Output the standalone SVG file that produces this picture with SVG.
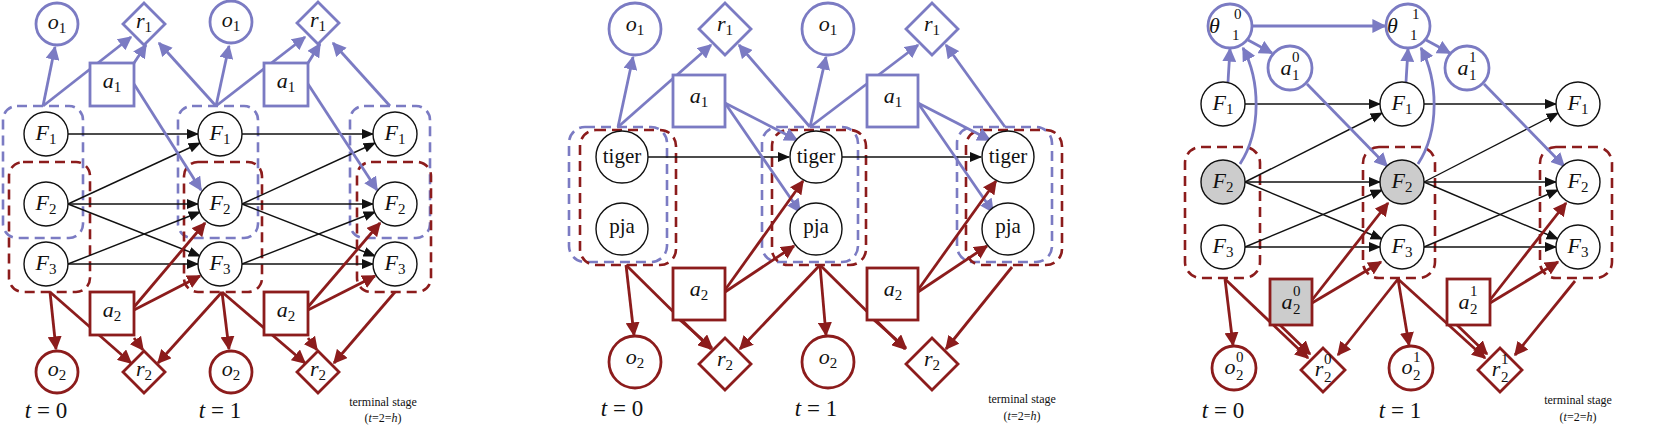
<svg xmlns="http://www.w3.org/2000/svg" width="1667" height="433" viewBox="0 0 1667 433" font-family="'Liberation Serif','DejaVu Serif',serif">
<style>
.b{stroke:#7b7bc3;stroke-width:2.8;fill:none}
.r{stroke:#8c1c1c;stroke-width:2.8;fill:none}
.k{stroke:#111;stroke-width:1.4;fill:none}
.bn{stroke:#7b7bc3;stroke-width:2.8;fill:#fff}
.rn{stroke:#8c1c1c;stroke-width:2.8;fill:#fff}
.kn{stroke:#111;stroke-width:1.4;fill:#fff}
.g{fill:#cccccc}
.bd{stroke:#7b7bc3;stroke-width:2.6;fill:none;stroke-dasharray:10 6}
.rd{stroke:#8c1c1c;stroke-width:2.6;fill:none;stroke-dasharray:10 6}
text{font-family:"Liberation Serif","DejaVu Serif",serif;fill:#111}
.m{font-style:italic;font-size:22px;text-anchor:middle}
.s{font-style:normal;font-size:15px}
.w{font-size:21px;text-anchor:middle}
.t{font-size:12px;text-anchor:middle}
</style>
<defs>
<marker id="ab" viewBox="0 0 10 10" refX="9" refY="5" markerWidth="5" markerHeight="5" orient="auto"><path d="M0,0L10,5L0,10z" fill="#7b7bc3"/></marker>
<marker id="ar" viewBox="0 0 10 10" refX="9" refY="5" markerWidth="5" markerHeight="5" orient="auto"><path d="M0,0L10,5L0,10z" fill="#8c1c1c"/></marker>
<marker id="ak" viewBox="0 0 10 10" refX="9" refY="5" markerWidth="9" markerHeight="9" orient="auto"><path d="M0,1L10,5L0,9z" fill="#111"/></marker>
</defs>

<!-- ================= PANEL 1 ================= -->
<g id="p1-boxes">
<rect class="bd" x="3" y="106" width="80" height="132" rx="14"/>
<rect class="bd" x="178" y="106" width="80" height="132" rx="14"/>
<rect class="bd" x="350" y="106" width="80" height="132" rx="14"/>
<rect class="rd" x="9" y="162" width="81" height="130" rx="14"/>
<rect class="rd" x="184" y="162" width="78" height="130" rx="14"/>
<rect class="rd" x="357" y="162" width="74" height="130" rx="14"/>
</g>
<g id="p1-edges">
<g class="k" marker-end="url(#ak)">
<line x1="68" y1="134" x2="198" y2="134"/><line x1="68" y1="204" x2="200" y2="143"/><line x1="68" y1="204" x2="198" y2="204"/><line x1="68" y1="204" x2="200" y2="256"/><line x1="68" y1="264" x2="200" y2="212"/><line x1="68" y1="264" x2="198" y2="264"/>
<line x1="242" y1="134" x2="373" y2="134"/><line x1="242" y1="204" x2="375" y2="143"/><line x1="242" y1="204" x2="373" y2="204"/><line x1="242" y1="204" x2="375" y2="256"/><line x1="242" y1="264" x2="375" y2="212"/><line x1="242" y1="264" x2="373" y2="264"/>
</g>
<g class="b" marker-end="url(#ab)">
<line x1="43" y1="106" x2="55" y2="47"/><line x1="43" y1="106" x2="131" y2="37"/><line x1="134" y1="63" x2="146" y2="45"/><line x1="134" y1="84" x2="201" y2="190"/><line x1="216" y1="106" x2="159" y2="43"/>
<line x1="216" y1="106" x2="229" y2="46"/><line x1="216" y1="106" x2="305" y2="37"/><line x1="308" y1="63" x2="320" y2="44"/><line x1="308" y1="84" x2="377" y2="190"/><line x1="390" y1="106" x2="333" y2="43"/>
</g>
<g class="r" marker-end="url(#ar)">
<line x1="50" y1="292" x2="56" y2="349"/><line x1="50" y1="292" x2="131" y2="363"/><line x1="134" y1="338" x2="143" y2="350"/><line x1="134" y1="307" x2="205" y2="223"/><line x1="134" y1="310" x2="200" y2="276"/><line x1="222" y1="292" x2="158" y2="363"/>
<line x1="222" y1="292" x2="229" y2="349"/><line x1="222" y1="292" x2="305" y2="363"/><line x1="308" y1="338" x2="317" y2="350"/><line x1="308" y1="307" x2="380" y2="223"/><line x1="308" y1="310" x2="375" y2="276"/><line x1="395" y1="292" x2="334" y2="363"/>
</g>
</g>
<g id="p1-o1a"><circle class="bn" cx="57" cy="24" r="21"/><text class="m" x="57" y="29">o<tspan class="s" dy="4">1</tspan></text></g>
<g id="p1-r1a"><polygon class="bn" points="144,3 165,24 144,45 123,24"/><text class="m" x="144" y="28">r<tspan class="s" dy="4">1</tspan></text></g>
<g id="p1-o1b"><circle class="bn" cx="231" cy="22" r="21"/><text class="m" x="231" y="27">o<tspan class="s" dy="4">1</tspan></text></g>
<g id="p1-r1b"><polygon class="bn" points="318,2 339,23 318,44 297,23"/><text class="m" x="318" y="27">r<tspan class="s" dy="4">1</tspan></text></g>
<g id="p1-a1a"><rect class="bn" x="90" y="63" width="44" height="43"/><text class="m" x="112" y="88">a<tspan class="s" dy="4">1</tspan></text></g>
<g id="p1-a1b"><rect class="bn" x="264" y="63" width="44" height="43"/><text class="m" x="286" y="88">a<tspan class="s" dy="4">1</tspan></text></g>
<g id="p1-a2a"><rect class="rn" x="90" y="292" width="44" height="43"/><text class="m" x="112" y="317">a<tspan class="s" dy="4">2</tspan></text></g>
<g id="p1-a2b"><rect class="rn" x="264" y="292" width="44" height="43"/><text class="m" x="286" y="317">a<tspan class="s" dy="4">2</tspan></text></g>
<g id="p1-o2a"><circle class="rn" cx="57" cy="372" r="21"/><text class="m" x="57" y="376">o<tspan class="s" dy="4">2</tspan></text></g>
<g id="p1-r2a"><polygon class="rn" points="144,351 165,372 144,393 123,372"/><text class="m" x="144" y="376">r<tspan class="s" dy="4">2</tspan></text></g>
<g id="p1-o2b"><circle class="rn" cx="231" cy="372" r="21"/><text class="m" x="231" y="376">o<tspan class="s" dy="4">2</tspan></text></g>
<g id="p1-r2b"><polygon class="rn" points="318,351 339,372 318,393 297,372"/><text class="m" x="318" y="376">r<tspan class="s" dy="4">2</tspan></text></g>
<g id="p1-F"><g class="kn">
<circle cx="46" cy="134" r="22"/><circle cx="46" cy="204" r="22"/><circle cx="46" cy="264" r="22"/>
<circle cx="220" cy="134" r="22"/><circle cx="220" cy="204" r="22"/><circle cx="220" cy="264" r="22"/>
<circle cx="395" cy="134" r="22"/><circle cx="395" cy="204" r="22"/><circle cx="395" cy="264" r="22"/></g>
<text class="m" x="46" y="140">F<tspan class="s" dy="4">1</tspan></text><text class="m" x="46" y="210">F<tspan class="s" dy="4">2</tspan></text><text class="m" x="46" y="270">F<tspan class="s" dy="4">3</tspan></text>
<text class="m" x="220" y="140">F<tspan class="s" dy="4">1</tspan></text><text class="m" x="220" y="210">F<tspan class="s" dy="4">2</tspan></text><text class="m" x="220" y="270">F<tspan class="s" dy="4">3</tspan></text>
<text class="m" x="395" y="140">F<tspan class="s" dy="4">1</tspan></text><text class="m" x="395" y="210">F<tspan class="s" dy="4">2</tspan></text><text class="m" x="395" y="270">F<tspan class="s" dy="4">3</tspan></text>
</g>
<text class="m" x="46" y="418" style="font-size:23px">t <tspan font-style="normal">= 0</tspan></text>
<text class="m" x="220" y="418" style="font-size:23px">t <tspan font-style="normal">= 1</tspan></text>
<text class="t" x="383" y="406">terminal stage</text>
<text class="t" x="383" y="422">(<tspan font-style="italic">t</tspan>=2=<tspan font-style="italic">h</tspan>)</text>

<!-- ================= PANEL 2 ================= -->
<g id="p2-boxes">
<rect class="bd" x="569" y="127" width="98" height="135" rx="16"/>
<rect class="rd" x="580" y="130" width="96" height="135" rx="16"/>
<rect class="bd" x="762" y="127" width="96" height="135" rx="16"/>
<rect class="rd" x="772" y="130" width="94" height="135" rx="16"/>
<rect class="bd" x="957" y="127" width="95" height="135" rx="16"/>
<rect class="rd" x="966" y="130" width="96" height="135" rx="16"/>
</g>
<g id="p2-edges">
<g class="k" marker-end="url(#ak)"><line x1="648" y1="157" x2="789" y2="157"/><line x1="842" y1="157" x2="981" y2="157"/></g>
<g class="b" marker-end="url(#ab)">
<line x1="618" y1="127" x2="633" y2="57"/><line x1="618" y1="127" x2="711" y2="45"/><line x1="725" y1="103" x2="797" y2="140"/><line x1="725" y1="103" x2="800" y2="212"/><line x1="810" y1="127" x2="739" y2="45"/>
<line x1="810" y1="127" x2="826" y2="57"/><line x1="810" y1="127" x2="918" y2="45"/><line x1="918" y1="103" x2="990" y2="140"/><line x1="918" y1="103" x2="993" y2="212"/><line x1="1005" y1="127" x2="946" y2="45"/>
</g>
<g class="r" marker-end="url(#ar)">
<line x1="626" y1="265" x2="634" y2="335"/><line x1="626" y1="265" x2="711" y2="349"/><line x1="680" y1="320" x2="712" y2="348"/><line x1="725" y1="290" x2="803" y2="181"/><line x1="725" y1="292" x2="794" y2="246"/><line x1="820" y1="265" x2="740" y2="349"/>
<line x1="820" y1="265" x2="826" y2="335"/><line x1="820" y1="265" x2="905" y2="349"/><line x1="874" y1="320" x2="906" y2="348"/><line x1="918" y1="290" x2="996" y2="181"/><line x1="918" y1="292" x2="987" y2="246"/><line x1="1012" y1="267" x2="946" y2="349"/>
</g>
</g>
<g id="p2-top">
<circle class="bn" cx="635" cy="29" r="26"/><text class="m" x="635" y="31">o<tspan class="s" dy="4">1</tspan></text>
<polygon class="bn" points="725,3 751,29 725,55 699,29"/><text class="m" x="725" y="31">r<tspan class="s" dy="4">1</tspan></text>
<circle class="bn" cx="828" cy="29" r="26"/><text class="m" x="828" y="31">o<tspan class="s" dy="4">1</tspan></text>
<polygon class="bn" points="932,3 958,29 932,55 906,29"/><text class="m" x="932" y="31">r<tspan class="s" dy="4">1</tspan></text>
<rect class="bn" x="673" y="75" width="52" height="52"/><text class="m" x="699" y="103">a<tspan class="s" dy="4">1</tspan></text>
<rect class="bn" x="867" y="75" width="51" height="52"/><text class="m" x="893" y="103">a<tspan class="s" dy="4">1</tspan></text>
</g>
<g id="p2-bottom">
<rect class="rn" x="673" y="268" width="52" height="52"/><text class="m" x="699" y="296">a<tspan class="s" dy="4">2</tspan></text>
<rect class="rn" x="867" y="268" width="51" height="52"/><text class="m" x="893" y="296">a<tspan class="s" dy="4">2</tspan></text>
<circle class="rn" cx="635" cy="362" r="26"/><text class="m" x="635" y="364">o<tspan class="s" dy="4">2</tspan></text>
<polygon class="rn" points="725,338 751,364 725,390 699,364"/><text class="m" x="725" y="366">r<tspan class="s" dy="4">2</tspan></text>
<circle class="rn" cx="828" cy="362" r="26"/><text class="m" x="828" y="364">o<tspan class="s" dy="4">2</tspan></text>
<polygon class="rn" points="932,338 958,364 932,390 906,364"/><text class="m" x="932" y="366">r<tspan class="s" dy="4">2</tspan></text>
</g>
<g id="p2-state">
<g class="kn"><circle cx="622" cy="157" r="26"/><circle cx="622" cy="229" r="26"/><circle cx="816" cy="157" r="26"/><circle cx="816" cy="229" r="26"/><circle cx="1008" cy="157" r="26"/><circle cx="1008" cy="229" r="26"/></g>
<text class="w" x="622" y="163">tiger</text><text class="w" x="622" y="233">pja</text>
<text class="w" x="816" y="163">tiger</text><text class="w" x="816" y="233">pja</text>
<text class="w" x="1008" y="163">tiger</text><text class="w" x="1008" y="233">pja</text>
</g>
<text class="m" x="622" y="416" style="font-size:23px">t <tspan font-style="normal">= 0</tspan></text>
<text class="m" x="816" y="416" style="font-size:23px">t <tspan font-style="normal">= 1</tspan></text>
<text class="t" x="1022" y="403">terminal stage</text>
<text class="t" x="1022" y="420">(<tspan font-style="italic">t</tspan>=2=<tspan font-style="italic">h</tspan>)</text>

<!-- ================= PANEL 3 ================= -->
<g id="p3-boxes">
<rect class="rd" x="1185" y="147" width="75" height="131" rx="16"/>
<rect class="rd" x="1363" y="147" width="72" height="131" rx="16"/>
<rect class="rd" x="1540" y="147" width="72" height="131" rx="16"/>
</g>
<g id="p3-edges">
<g class="k" marker-end="url(#ak)">
<line x1="1245" y1="104" x2="1380" y2="104"/><line x1="1245" y1="182" x2="1382" y2="113"/><line x1="1245" y1="182" x2="1380" y2="182"/><line x1="1245" y1="182" x2="1382" y2="239"/><line x1="1245" y1="247" x2="1382" y2="190"/><line x1="1245" y1="247" x2="1380" y2="247"/>
<line x1="1424" y1="104" x2="1556" y2="104"/><line x1="1424" y1="182" x2="1558" y2="113"/><line x1="1424" y1="182" x2="1556" y2="182"/><line x1="1424" y1="182" x2="1558" y2="239"/><line x1="1424" y1="247" x2="1558" y2="190"/><line x1="1424" y1="247" x2="1556" y2="247"/>
</g>
<g class="b" marker-end="url(#ab)">
<line x1="1228" y1="82" x2="1230" y2="49"/><path d="M1240,164 C1262,130 1260,80 1243,48"/><line x1="1252" y1="26" x2="1385" y2="26"/><line x1="1248" y1="40" x2="1272" y2="53"/><line x1="1307" y1="84" x2="1387" y2="166"/>
<line x1="1406" y1="82" x2="1408" y2="49"/><path d="M1418,164 C1440,130 1438,80 1421,48"/><line x1="1426" y1="40" x2="1450" y2="53"/><line x1="1484" y1="84" x2="1564" y2="166"/>
</g>
<g class="r" marker-end="url(#ar)">
<line x1="1225" y1="279" x2="1233" y2="345"/><line x1="1225" y1="279" x2="1308" y2="358"/><line x1="1280" y1="325" x2="1310" y2="354"/><line x1="1312" y1="300" x2="1388" y2="203"/><line x1="1312" y1="303" x2="1381" y2="262"/><line x1="1398" y1="279" x2="1338" y2="355"/>
<line x1="1398" y1="279" x2="1409" y2="345"/><line x1="1398" y1="279" x2="1485" y2="358"/><line x1="1457" y1="325" x2="1487" y2="354"/><line x1="1490" y1="300" x2="1566" y2="203"/><line x1="1490" y1="303" x2="1558" y2="262"/><line x1="1575" y1="281" x2="1515" y2="355"/>
</g>
</g>
<g id="p3-theta0"><circle class="bn" cx="1230" cy="26" r="22"/><text class="m" x="1223" y="33">θ⃗</text><text class="s" x="1232" y="40">1</text><text class="s" x="1234" y="19">0</text></g>
<g id="p3-theta1"><circle class="bn" cx="1408" cy="26" r="22"/><text class="m" x="1401" y="33">θ⃗</text><text class="s" x="1410" y="40">1</text><text class="s" x="1412" y="19">1</text></g>
<g id="p3-a10"><circle class="bn" cx="1290" cy="68" r="22"/><text class="m" x="1286" y="75">a</text><text class="s" x="1292" y="62">0</text><text class="s" x="1292" y="80">1</text></g>
<g id="p3-a11"><circle class="bn" cx="1467" cy="68" r="22"/><text class="m" x="1463" y="75">a</text><text class="s" x="1469" y="62">1</text><text class="s" x="1469" y="80">1</text></g>
<g id="p3-a20"><rect class="rn g" x="1270" y="279" width="42" height="46"/><text class="m" x="1287" y="309">a</text><text class="s" x="1293" y="296">0</text><text class="s" x="1293" y="314">2</text></g>
<g id="p3-a21"><rect class="rn" x="1447" y="279" width="43" height="46"/><text class="m" x="1464" y="309">a</text><text class="s" x="1470" y="296">1</text><text class="s" x="1470" y="314">2</text></g>
<g id="p3-o20"><circle class="rn" cx="1234" cy="368" r="22"/><text class="m" x="1230" y="374">o</text><text class="s" x="1236" y="362">0</text><text class="s" x="1236" y="380">2</text></g>
<g id="p3-r20"><polygon class="rn" points="1323,348 1345,370 1323,392 1301,370"/><text class="m" x="1319" y="376">r</text><text class="s" x="1324" y="364">0</text><text class="s" x="1324" y="382">2</text></g>
<g id="p3-o21"><circle class="rn" cx="1411" cy="368" r="22"/><text class="m" x="1407" y="374">o</text><text class="s" x="1413" y="362">1</text><text class="s" x="1413" y="380">2</text></g>
<g id="p3-r21"><polygon class="rn" points="1500,348 1522,370 1500,392 1478,370"/><text class="m" x="1496" y="376">r</text><text class="s" x="1501" y="364">1</text><text class="s" x="1501" y="382">2</text></g>
<g id="p3-F">
<g class="kn"><circle cx="1223" cy="104" r="22"/><circle class="g" cx="1223" cy="182" r="22"/><circle cx="1223" cy="247" r="22"/>
<circle cx="1402" cy="104" r="22"/><circle class="g" cx="1402" cy="182" r="22"/><circle cx="1402" cy="247" r="22"/>
<circle cx="1578" cy="104" r="22"/><circle cx="1578" cy="182" r="22"/><circle cx="1578" cy="247" r="22"/></g>
<text class="m" x="1223" y="110">F<tspan class="s" dy="4">1</tspan></text><text class="m" x="1223" y="188">F<tspan class="s" dy="4">2</tspan></text><text class="m" x="1223" y="253">F<tspan class="s" dy="4">3</tspan></text>
<text class="m" x="1402" y="110">F<tspan class="s" dy="4">1</tspan></text><text class="m" x="1402" y="188">F<tspan class="s" dy="4">2</tspan></text><text class="m" x="1402" y="253">F<tspan class="s" dy="4">3</tspan></text>
<text class="m" x="1578" y="110">F<tspan class="s" dy="4">1</tspan></text><text class="m" x="1578" y="188">F<tspan class="s" dy="4">2</tspan></text><text class="m" x="1578" y="253">F<tspan class="s" dy="4">3</tspan></text>
</g>
<text class="m" x="1223" y="418" style="font-size:23px">t <tspan font-style="normal">= 0</tspan></text>
<text class="m" x="1400" y="418" style="font-size:23px">t <tspan font-style="normal">= 1</tspan></text>
<text class="t" x="1578" y="404">terminal stage</text>
<text class="t" x="1578" y="421">(<tspan font-style="italic">t</tspan>=2=<tspan font-style="italic">h</tspan>)</text>
</svg>
